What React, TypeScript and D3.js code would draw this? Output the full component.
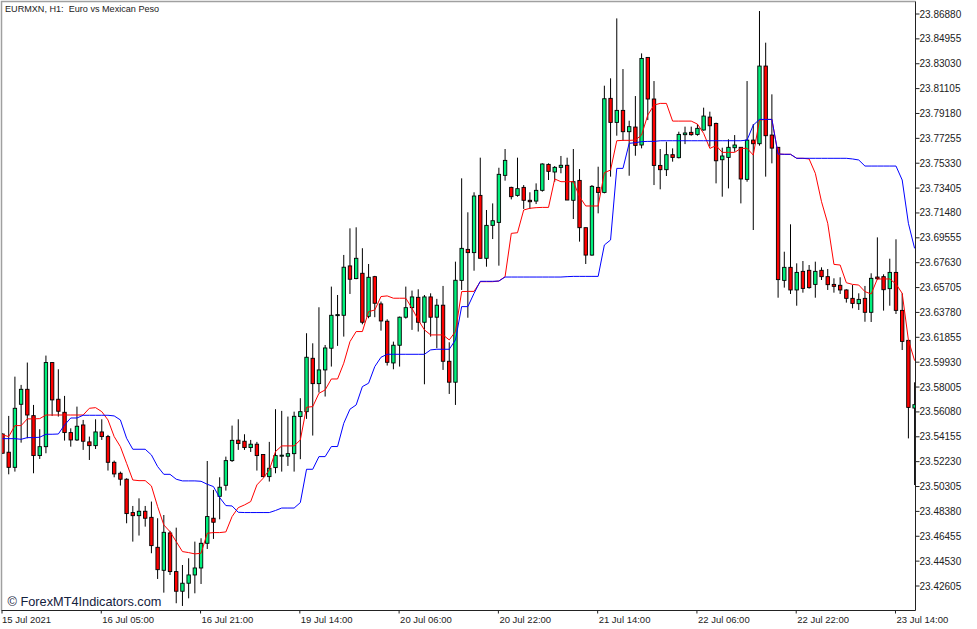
import React from 'react';
import * as d3 from 'd3';

// EURMXN H1 bars
const opens = [
  23.5437, 23.5296, 23.5179, 23.5667, 23.5783, 23.5579, 23.5270, 23.5339, 23.5990, 23.5706,
  23.5605, 23.5448, 23.5391, 23.5507, 23.5376, 23.5347, 23.5453, 23.5417, 23.5218, 23.5133,
  23.5087, 23.4829, 23.4805, 23.4839, 23.4792, 23.4560, 23.4382, 23.4671, 23.4372, 23.4220,
  23.4282, 23.4346, 23.4400, 23.4591, 23.4785, 23.4955, 23.5040, 23.5231, 23.5389, 23.5381,
  23.5332, 23.5358, 23.5278, 23.5107, 23.5177, 23.5267, 23.5265, 23.5285, 23.5572, 23.5610,
  23.6023, 23.5827, 23.5933, 23.6101, 23.6354, 23.6356, 23.6738, 23.6640, 23.6681, 23.6348,
  23.6655, 23.6444, 23.6310, 23.5987, 23.6124, 23.6341, 23.6415, 23.6495, 23.6302, 23.6498,
  23.6341, 23.6434, 23.6000, 23.5838, 23.6626, 23.6866, 23.6841, 23.7284, 23.6797, 23.7052,
  23.7075, 23.7439, 23.7346, 23.7284, 23.7346, 23.7246, 23.7240, 23.7323, 23.7524, 23.7465,
  23.7501, 23.7517, 23.7246, 23.7400, 23.7034, 23.6822, 23.7346, 23.7307, 23.8035, 23.7849,
  23.7942, 23.7777, 23.7813, 23.7674, 23.8352, 23.8030, 23.7516, 23.7483, 23.7599, 23.7576,
  23.7754, 23.7772, 23.7756, 23.7790, 23.7890, 23.7841, 23.7560, 23.7578, 23.7653, 23.7656,
  23.7408, 23.7712, 23.7684, 23.8285, 23.7751, 23.7656, 23.6626, 23.6727, 23.6552, 23.6696,
  23.6704, 23.6595, 23.6704, 23.6655, 23.6595, 23.6588, 23.6552, 23.6487, 23.6446, 23.6487,
  23.6379, 23.6652, 23.6655, 23.6562, 23.6688, 23.6394, 23.6162, 23.5638,
];
const highs = [
  23.5443, 23.5577, 23.5881, 23.5817, 23.5990, 23.5662, 23.5474, 23.6044, 23.5990, 23.5938,
  23.5732, 23.5481, 23.5649, 23.5546, 23.5417, 23.5551, 23.5551, 23.5430, 23.5231, 23.5146,
  23.5094, 23.4880, 23.4939, 23.4880, 23.4914, 23.4785, 23.4810, 23.4687, 23.4712, 23.4423,
  23.4475, 23.4604, 23.4630, 23.5228, 23.5004, 23.5102, 23.5262, 23.5502, 23.5551, 23.5435,
  23.5391, 23.5376, 23.5278, 23.5376, 23.5629, 23.5616, 23.5572, 23.5610, 23.5714, 23.6217,
  23.6139, 23.6418, 23.6126, 23.6578, 23.6513, 23.6823, 23.7029, 23.7037, 23.6875, 23.6753,
  23.6661, 23.6462, 23.6325, 23.6152, 23.6346, 23.6578, 23.6547, 23.6557, 23.6513, 23.6526,
  23.6483, 23.6583, 23.6147, 23.6771, 23.7416, 23.7153, 23.7308, 23.7576, 23.7171, 23.7222,
  23.7498, 23.7643, 23.7351, 23.7576, 23.7364, 23.7308, 23.7377, 23.7532, 23.7532, 23.7511,
  23.7589, 23.7576, 23.7643, 23.7488, 23.7034, 23.7364, 23.7506, 23.8133, 23.8190, 23.8654,
  23.8262, 23.7862, 23.8053, 23.8383, 23.8352, 23.8169, 23.7643, 23.7699, 23.7648, 23.7777,
  23.7816, 23.7816, 23.7836, 23.7963, 23.7932, 23.7847, 23.7653, 23.7718, 23.7751, 23.7656,
  23.8169, 23.7836, 23.8711, 23.8466, 23.8066, 23.7656, 23.6848, 23.7060, 23.6758, 23.6776,
  23.6745, 23.6771, 23.6727, 23.6714, 23.6642, 23.6650, 23.6557, 23.6590, 23.6526, 23.6583,
  23.6681, 23.6959, 23.6673, 23.6794, 23.6944, 23.6526, 23.6165, 23.5837,
];
const lows = [
  23.5283, 23.5125, 23.5146, 23.5370, 23.5404, 23.5133, 23.5244, 23.5288, 23.5577, 23.5572,
  23.5386, 23.5339, 23.5383, 23.5314, 23.5236, 23.5321, 23.5391, 23.5154, 23.5102, 23.5038,
  23.4746, 23.4604, 23.4651, 23.4720, 23.4514, 23.4315, 23.4209, 23.4346, 23.4127, 23.4106,
  23.4165, 23.4204, 23.4276, 23.4547, 23.4625, 23.4777, 23.4999, 23.5221, 23.5314, 23.5314,
  23.5298, 23.5154, 23.5107, 23.5069, 23.5133, 23.5146, 23.5190, 23.5146, 23.5242, 23.5554,
  23.5425, 23.5758, 23.5727, 23.5959, 23.6119, 23.6191, 23.6521, 23.6635, 23.6286, 23.6333,
  23.6341, 23.6237, 23.5967, 23.5938, 23.5959, 23.6330, 23.6243, 23.6230, 23.5822, 23.6191,
  23.6101, 23.5933, 23.5747, 23.5662, 23.6552, 23.6337, 23.6701, 23.6797, 23.6732, 23.6946,
  23.6740, 23.7398, 23.7253, 23.7274, 23.7179, 23.7179, 23.7217, 23.7313, 23.7403, 23.7390,
  23.7455, 23.7248, 23.7101, 23.6926, 23.6753, 23.6817, 23.7145, 23.7300, 23.7429, 23.7746,
  23.7707, 23.7436, 23.7591, 23.7648, 23.7867, 23.7364, 23.7331, 23.7434, 23.7545, 23.7570,
  23.7681, 23.7746, 23.7746, 23.7785, 23.7661, 23.7377, 23.7274, 23.7338, 23.7622, 23.7222,
  23.7390, 23.7016, 23.7669, 23.7429, 23.7532, 23.6492, 23.6570, 23.6521, 23.6430, 23.6531,
  23.6562, 23.6492, 23.6629, 23.6552, 23.6531, 23.6521, 23.6454, 23.6410, 23.6397, 23.6306,
  23.6304, 23.6629, 23.6392, 23.6430, 23.6366, 23.6087, 23.5403, 23.5042,
];
const closes = [
  23.5288, 23.5179, 23.5636, 23.5783, 23.5584, 23.5270, 23.5339, 23.5990, 23.5701, 23.5613,
  23.5448, 23.5391, 23.5497, 23.5381, 23.5347, 23.5453, 23.5417, 23.5218, 23.5128, 23.5087,
  23.4821, 23.4805, 23.4839, 23.4785, 23.4573, 23.4387, 23.4676, 23.4372, 23.4220, 23.4282,
  23.4346, 23.4400, 23.4591, 23.4798, 23.4754, 23.5025, 23.5231, 23.5388, 23.5363, 23.5332,
  23.5358, 23.5270, 23.5107, 23.5172, 23.5270, 23.5273, 23.5285, 23.5574, 23.5610, 23.6031,
  23.5827, 23.5933, 23.6103, 23.6356, 23.6361, 23.6728, 23.6635, 23.6797, 23.6302, 23.6650,
  23.6449, 23.6312, 23.5992, 23.6124, 23.6341, 23.6415, 23.6498, 23.6302, 23.6498, 23.6341,
  23.6434, 23.6000, 23.5838, 23.6627, 23.6874, 23.6841, 23.7279, 23.6797, 23.7052, 23.7088,
  23.7447, 23.7555, 23.7274, 23.7336, 23.7246, 23.7235, 23.7323, 23.7527, 23.7470, 23.7501,
  23.7517, 23.7248, 23.7390, 23.7034, 23.6822, 23.7354, 23.7307, 23.8032, 23.7849, 23.7942,
  23.7777, 23.7816, 23.7671, 23.8344, 23.8030, 23.7516, 23.7483, 23.7599, 23.7578, 23.7756,
  23.7767, 23.7754, 23.7803, 23.7898, 23.7823, 23.7552, 23.7589, 23.7656, 23.7674, 23.7411,
  23.7712, 23.7684, 23.8285, 23.7746, 23.7650, 23.6632, 23.6727, 23.6552, 23.6688, 23.6564,
  23.6570, 23.6696, 23.6655, 23.6593, 23.6580, 23.6552, 23.6487, 23.6448, 23.6479, 23.6379,
  23.6642, 23.6639, 23.6554, 23.6688, 23.6394, 23.6154, 23.5643, 23.5664,
];

const redLine = [
  23.5430, 23.5417, 23.5502, 23.5502, 23.5554, 23.5554, 23.5556, 23.5584, 23.5584, 23.5584,
  23.5584, 23.5584, 23.5584, 23.5584, 23.5636, 23.5641, 23.5610, 23.5546, 23.5417, 23.5339,
  23.5210, 23.5081, 23.5076, 23.5076, 23.5035, 23.4875, 23.4733, 23.4681, 23.4604, 23.4527,
  23.4519, 23.4509, 23.4514, 23.4669, 23.4674, 23.4674, 23.4679, 23.4798, 23.4867, 23.4888,
  23.4914, 23.5043, 23.5094, 23.5159, 23.5301, 23.5345, 23.5345, 23.5345, 23.5391, 23.5644,
  23.5649, 23.5752, 23.5778, 23.5863, 23.5863, 23.5985, 23.6152, 23.6230, 23.6230, 23.6384,
  23.6397, 23.6501, 23.6506, 23.6488, 23.6488, 23.6488, 23.6410, 23.6320, 23.6243, 23.6204,
  23.6204, 23.6204, 23.6165, 23.6230, 23.6539, 23.6541, 23.6541, 23.6616, 23.6616, 23.6616,
  23.6621, 23.6655, 23.6990, 23.6995, 23.7171, 23.7184, 23.7189, 23.7191, 23.7191, 23.7411,
  23.7390, 23.7390, 23.7390, 23.7274, 23.7202, 23.7202, 23.7202, 23.7460, 23.7480, 23.7707,
  23.7710, 23.7710, 23.7712, 23.7751, 23.7906, 23.7983, 23.7996, 23.7996, 23.7859, 23.7859,
  23.7859, 23.7859, 23.7836, 23.7764, 23.7648, 23.7669, 23.7617, 23.7617, 23.7617, 23.7648,
  23.7648, 23.7596, 23.7867, 23.7872, 23.7872, 23.7604, 23.7602, 23.7602, 23.7571, 23.7571,
  23.7566, 23.7455, 23.7235, 23.7068, 23.6750, 23.6745, 23.6608, 23.6595, 23.6590, 23.6539,
  23.6521, 23.6637, 23.6637, 23.6637, 23.6598, 23.6526, 23.6165, 23.6005,
];
const blueLine = [
  23.5401, 23.5401, 23.5401, 23.5396, 23.5409, 23.5409, 23.5412, 23.5435, 23.5435, 23.5437,
  23.5507, 23.5561, 23.5561, 23.5582, 23.5582, 23.5582, 23.5582, 23.5582, 23.5577, 23.5546,
  23.5404, 23.5319, 23.5319, 23.5319, 23.5275, 23.5185, 23.5125, 23.5125, 23.5087, 23.5074,
  23.5074, 23.5074, 23.5071, 23.5048, 23.5030, 23.4945, 23.4883, 23.4880, 23.4831, 23.4829,
  23.4829, 23.4829, 23.4829, 23.4829, 23.4845, 23.4864, 23.4864, 23.4864, 23.4906, 23.5164,
  23.5164, 23.5262, 23.5262, 23.5340, 23.5340, 23.5520, 23.5629, 23.5662, 23.5804, 23.5830,
  23.5959, 23.6031, 23.6054, 23.6054, 23.6054, 23.6054, 23.6054, 23.6054, 23.6054, 23.6088,
  23.6093, 23.6093, 23.6093, 23.6165, 23.6423, 23.6423, 23.6526, 23.6619, 23.6619, 23.6619,
  23.6621, 23.6652, 23.6652, 23.6652, 23.6652, 23.6652, 23.6652, 23.6652, 23.6652, 23.6652,
  23.6652, 23.6655, 23.6657, 23.6657, 23.6657, 23.6657, 23.6657, 23.6900, 23.6939, 23.7493,
  23.7493, 23.7687, 23.7692, 23.7700, 23.7702, 23.7702, 23.7707, 23.7707, 23.7707, 23.7707,
  23.7707, 23.7707, 23.7707, 23.7707, 23.7707, 23.7707, 23.7707, 23.7707, 23.7707, 23.7707,
  23.7712, 23.7828, 23.7872, 23.7872, 23.7872, 23.7604, 23.7602, 23.7602, 23.7571, 23.7571,
  23.7571, 23.7571, 23.7571, 23.7571, 23.7571, 23.7571, 23.7571, 23.7566, 23.7558, 23.7511,
  23.7511, 23.7511, 23.7511, 23.7511, 23.7511, 23.7403, 23.7068, 23.6874,
];

const priceTicks = [
  '23.86880', '23.84955', '23.83030', '23.81105', '23.79180', '23.77255', '23.75330', '23.73405',
  '23.71480', '23.69555', '23.67630', '23.65705', '23.63780', '23.61855', '23.59930', '23.58005',
  '23.56080', '23.54155', '23.52230', '23.50305', '23.48380', '23.46455', '23.44530', '23.42605',
];
const timeTickBars = [0, 16, 32, 48, 64, 80, 96, 112, 128, 144];
const timeTickLabels = [
  '15 Jul 2021', '16 Jul 05:00', '16 Jul 21:00', '19 Jul 14:00', '20 Jul 06:00',
  '20 Jul 22:00', '21 Jul 14:00', '22 Jul 06:00', '22 Jul 22:00', '23 Jul 14:00',
];

const width = 977;
const height = 629;
const plotLeft = 1.5;
const plotTop = 1.5;
const plotRight = 915.5;
const plotBottom = 610.5;
const font = '"Liberation Sans", Arial, sans-serif';

const App = () => {
  const x = d3.scaleLinear().domain([0, opens.length - 1]).range([2.5, 914.6]);
  const y = d3.scaleLinear().domain([23.8688, 23.42605]).range([14, 586]);

  const line = d3
    .line<number>()
    .x((d, i) => x(i))
    .y(d => y(d));

  return (
    <svg
      width={width}
      height={height}
      style={{ position: 'absolute', left: 0, top: 0, background: '#fff' }}
    >
      <defs>
        <clipPath id="plot">
          <rect x={plotLeft} y={plotTop} width={plotRight - plotLeft} height={plotBottom - plotTop} />
        </clipPath>
      </defs>

      <g clipPath="url(#plot)">
        {opens.map((open, i) => {
          const close = closes[i];
          const up = close > open;
          const top = y(Math.max(open, close));
          const bottom = y(Math.min(open, close));
          return (
            <g key={i}>
              <line x1={x(i)} x2={x(i)} y1={y(highs[i])} y2={y(lows[i])} stroke="#000" />
              <rect
                x={x(i) - 1.7}
                y={top}
                width={3.4}
                height={Math.max(bottom - top, 1)}
                fill={up ? '#00f07c' : '#ff0000'}
                stroke="#000"
                strokeWidth={0.9}
              />
            </g>
          );
        })}
        <path d={line(redLine) ?? ''} fill="none" stroke="#ff0000" strokeWidth={1} />
        <path d={line(blueLine) ?? ''} fill="none" stroke="#0000ff" strokeWidth={1} />
      </g>

      {/* frame */}
      <path
        d={`M${plotLeft},${plotBottom}V${plotTop}H${plotRight}`}
        fill="none"
        stroke="#a0a0a0"
        strokeWidth={1.5}
      />
      <path d={`M${plotRight},${plotTop}V${plotBottom}H${plotLeft}`} fill="none" stroke="#222" />

      {/* price axis */}
      {priceTicks.map(label => {
        const py = y(+label);
        return (
          <g key={label}>
            <line x1={plotRight} x2={plotRight + 4} y1={py} y2={py} stroke="#222" />
            <text x={919.5} y={py + 3.5} fontFamily={font} fontSize={10} fill="#222">
              {label}
            </text>
          </g>
        );
      })}

      {/* time axis */}
      {timeTickBars.map((bar, i) => (
        <g key={bar}>
          <line x1={x(bar) - 0.5} x2={x(bar) - 0.5} y1={plotBottom} y2={plotBottom + 3} stroke="#222" />
          <text x={x(bar) + (i === 0 ? -0.5 : 0.5)} y={623} fontFamily={font} fontSize={9.5} fill="#222">
            {timeTickLabels[i]}
          </text>
        </g>
      ))}

      <text x={5} y={12} fontFamily={font} fontSize={9.1} fill="#222" xmlSpace="preserve">
        EURMXN, H1:  Euro vs Mexican Peso
      </text>
      <text x={7.5} y={605.5} fontFamily={font} fontSize={12.75} fill="#14213d">
        © ForexMT4Indicators.com
      </text>
    </svg>
  );
};

export default App;
